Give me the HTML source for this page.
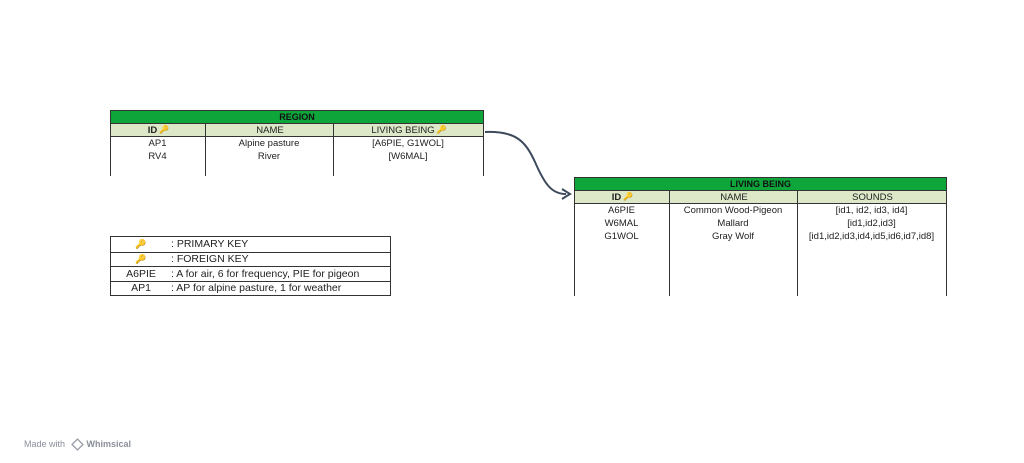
<!DOCTYPE html>
<html><head><meta charset="utf-8"><style>
body{margin:0;width:1024px;height:463px;background:#fff;position:relative;overflow:hidden;font-family:"Liberation Sans",sans-serif;color:#222}
.a{position:absolute;box-sizing:border-box}
.hd{background:#0ea63a;border:1px solid #333;font-weight:bold;font-size:9px;text-align:center;line-height:12px;color:#111}
.sh{background:#dde8c9;border:1px solid #333;border-top:none;font-size:9.5px;color:#222}
.c{position:absolute;top:0;bottom:0;display:flex;align-items:center;justify-content:center}
.vl{position:absolute;width:1px;background:#333}
.t{position:absolute;font-size:9.5px;text-align:center;line-height:13px}
.k{color:#f0b020;font-size:8px;line-height:8px;margin-left:2px}
.lgbox{position:absolute;left:110px;top:236px;width:281px;height:60px;border:1px solid #333;box-sizing:border-box}
.r{position:relative;box-sizing:border-box;height:14.5px;font-size:10.5px;display:flex;align-items:center;overflow:hidden}
.r+.r{border-top:1px solid #333}
.r .l{width:60px;text-align:center}
.r .kk{color:#f0b020;font-size:9px;line-height:9px}
</style></head><body>

<!-- REGION -->
<div class="a hd" style="left:110px;top:110px;width:374px;height:14px">REGION</div>
<div class="a sh" style="left:110px;top:124px;width:374px;height:13px">
<div class="c" style="left:0;width:95px"><b>ID</b><span class="k">🔑</span></div>
<div class="c" style="left:95px;width:128px">NAME</div>
<div class="c" style="left:223px;width:150px">LIVING BEING<span class="k">🔑</span></div>
</div>
<div class="vl" style="left:110px;top:110px;height:66px"></div>
<div class="vl" style="left:205px;top:124px;height:52px"></div>
<div class="vl" style="left:333px;top:124px;height:52px"></div>
<div class="vl" style="left:483px;top:110px;height:66px"></div>
<div class="t" style="left:110px;top:137px;width:95px">AP1<br>RV4</div>
<div class="t" style="left:205px;top:137px;width:128px">Alpine pasture<br>River</div>
<div class="t" style="left:333px;top:137px;width:150px">[A6PIE, G1WOL]<br>[W6MAL]</div>

<!-- LIVING BEING -->
<div class="a hd" style="left:574px;top:177px;width:373px;height:14px">LIVING BEING</div>
<div class="a sh" style="left:574px;top:191px;width:373px;height:13px">
<div class="c" style="left:0;width:95px"><b>ID</b><span class="k">🔑</span></div>
<div class="c" style="left:95px;width:128px">NAME</div>
<div class="c" style="left:223px;width:149px">SOUNDS</div>
</div>
<div class="vl" style="left:574px;top:177px;height:119px"></div>
<div class="vl" style="left:669px;top:191px;height:105px"></div>
<div class="vl" style="left:797px;top:191px;height:105px"></div>
<div class="vl" style="left:946px;top:177px;height:119px"></div>
<div class="t" style="left:574px;top:204px;width:95px">A6PIE<br>W6MAL<br>G1WOL</div>
<div class="t" style="left:669px;top:204px;width:128px">Common Wood-Pigeon<br>Mallard<br>Gray Wolf</div>
<div class="t" style="left:797px;top:204px;width:149px">[id1, id2, id3, id4]<br>[id1,id2,id3]<br>[id1,id2,id3,id4,id5,id6,id7,id8]</div>

<!-- connector -->
<svg class="a" style="left:0;top:0" width="1024" height="463">
<path d="M485 132 C515 131 525 140 535 162 C545 185 552 194 566 194" fill="none" stroke="#3c4a5c" stroke-width="2"/>
<path d="M562 189 L570 194 L562 199" fill="none" stroke="#3c4a5c" stroke-width="2"/>
</svg>

<!-- legend -->
<div class="lgbox">
<div class="r"><span class="l"><span class="kk">🔑</span></span><span>: PRIMARY KEY</span></div>
<div class="r"><span class="l"><span class="kk">🔑</span></span><span>: FOREIGN KEY</span></div>
<div class="r"><span class="l">A6PIE</span><span>: A for air, 6 for frequency, PIE for pigeon</span></div>
<div class="r"><span class="l">AP1</span><span>: AP for alpine pasture, 1 for weather</span></div>
</div>

<!-- watermark -->
<div class="a" style="left:24px;top:438px;font-size:9px;color:#8a8f98;line-height:12px">Made with <span style="display:inline-block;width:9px;height:9px;border:2px solid #9aa0a8;transform:rotate(45deg) scale(.7);vertical-align:middle;margin:0 3px"></span><b>Whimsical</b></div>
</body></html>
